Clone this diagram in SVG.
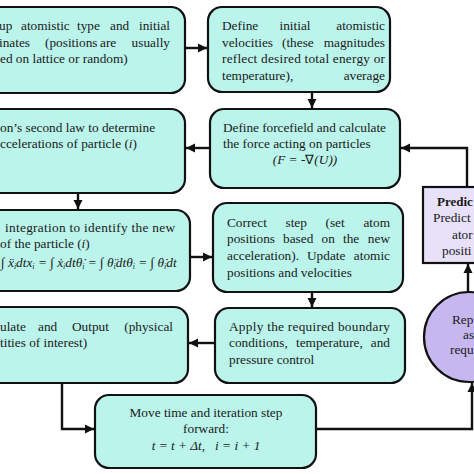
<svg xmlns="http://www.w3.org/2000/svg" width="474" height="474" viewBox="0 0 474 474">
<defs>
<style>
.box{fill:#bbf4eb;stroke:#111;stroke-width:2.2}
.t{font-family:"Liberation Serif","Times New Roman",serif;font-size:13.3px;fill:#1a1a1a}
.i{font-style:italic}
.n{font-style:normal}
.conn{stroke:#111;stroke-width:2.4;fill:none}
.s{font-size:8px}
</style>
<marker id="ah" markerWidth="10" markerHeight="10" refX="9" refY="5" orient="auto" markerUnits="userSpaceOnUse"><path d="M0,0.5 L9,5 L0,9.5 z" fill="#111"/></marker>
</defs>
<rect width="474" height="474" fill="#fff"/>

<g id="connectors">
<line class="conn" x1="185" y1="48" x2="207" y2="48" marker-end="url(#ah)"/>
<line class="conn" x1="312" y1="92" x2="312" y2="108" marker-end="url(#ah)"/>
<line class="conn" x1="210" y1="148" x2="186" y2="148" marker-end="url(#ah)"/>
<line class="conn" x1="78" y1="193" x2="78" y2="209" marker-end="url(#ah)"/>
<line class="conn" x1="190" y1="257" x2="212" y2="257" marker-end="url(#ah)"/>
<line class="conn" x1="312" y1="292" x2="312" y2="307" marker-end="url(#ah)"/>
<line class="conn" x1="215" y1="343" x2="189" y2="343" marker-end="url(#ah)"/>
<path class="conn" d="M62,383 V429 H94" marker-end="url(#ah)"/>
<path class="conn" d="M316,429 H472 V383" marker-end="url(#ah)"/>
<line class="conn" x1="468" y1="292" x2="468" y2="264" marker-end="url(#ah)"/>
<path class="conn" d="M467,187 V148 H401" marker-end="url(#ah)"/>
</g>

<g id="setup">
<rect class="box" x="-20" y="7" width="205" height="86" rx="14"/>
<text class="t" y="30"><tspan x="-1">up</tspan><tspan x="21">atomistic</tspan><tspan x="77">type</tspan><tspan x="110">and</tspan><tspan x="170" text-anchor="end">initial</tspan></text>
<text class="t" y="47"><tspan x="30" text-anchor="end">inates</tspan><tspan x="45">(positions</tspan><tspan x="100">are</tspan><tspan x="170" text-anchor="end">usually</tspan></text>
<text class="t" x="0" y="63">ed on lattice or random)</text>
</g>

<g id="velocities">
<rect class="box" x="208" y="7" width="182" height="85" rx="14"/>
<text class="t" y="30"><tspan x="222">Define</tspan><tspan x="295" text-anchor="middle">initial</tspan><tspan x="385" text-anchor="end">atomistic</tspan></text>
<text class="t" y="47"><tspan x="222">velocities</tspan><tspan x="282">(these</tspan><tspan x="385" text-anchor="end">magnitudes</tspan></text>
<text class="t" x="222" y="63" textLength="163" lengthAdjust="spacing">reflect desired total energy or</text>
<text class="t" y="80"><tspan x="222">temperature),</tspan><tspan x="385" text-anchor="end">average</tspan></text>
</g>

<g id="forcefield">
<rect class="box" x="210" y="109" width="190" height="79" rx="14"/>
<text class="t" x="223" y="132" textLength="163" lengthAdjust="spacing">Define forcefield and calculate</text>
<text class="t" x="223" y="148">the force acting on particles</text>
<text class="t i" x="305" y="164" text-anchor="middle">(F = -<tspan class="n">∇</tspan>(U))</text>
</g>

<g id="newton">
<rect class="box" x="-20" y="109" width="205" height="84" rx="14"/>
<text class="t" x="0" y="132">on’s second law to determine</text>
<text class="t" x="0" y="148">ccelerations of particle (<tspan class="i">i</tspan>)</text>
</g>

<g id="integration">
<rect class="box" x="-20" y="210" width="210" height="81" rx="14"/>
<text class="t" x="5" y="232" textLength="170" lengthAdjust="spacing">integration to identify the new</text>
<text class="t" x="0" y="248">of the particle (<tspan class="i">i</tspan>)</text>
<text class="t i" x="1" y="267">∫ ẍ<tspan class="s" dy="2">i</tspan><tspan dy="-2">dtx</tspan><tspan class="s" dy="2">i</tspan><tspan dy="-2"> = ∫ ẋ</tspan><tspan class="s" dy="2">i</tspan><tspan dy="-2">dtθ̇</tspan><tspan class="s" dy="2">i</tspan><tspan dy="-2"> = ∫ θ̈</tspan><tspan class="s" dy="2">i</tspan><tspan dy="-2">dtθ</tspan><tspan class="s" dy="2">i</tspan><tspan dy="-2"> = ∫ θ̇</tspan><tspan class="s" dy="2">i</tspan><tspan dy="-2">dt</tspan></text>
</g>

<g id="correct">
<rect class="box" x="213" y="203" width="190" height="89" rx="14"/>
<text class="t" y="227"><tspan x="227">Correct</tspan><tspan x="285.5">step</tspan><tspan x="325.5">(set</tspan><tspan x="390" text-anchor="end">atom</tspan></text>
<text class="t" y="243"><tspan x="227">positions</tspan><tspan x="283">based</tspan><tspan x="321.5">on</tspan><tspan x="343">the</tspan><tspan x="390" text-anchor="end">new</tspan></text>
<text class="t" y="260"><tspan x="227">acceleration).</tspan><tspan x="307">Update</tspan><tspan x="390" text-anchor="end">atomic</tspan></text>
<text class="t" x="227" y="277">positions and velocities</text>
</g>

<g id="boundary">
<rect class="box" x="215" y="308" width="190" height="75" rx="14"/>
<text class="t" x="229" y="331" textLength="161" lengthAdjust="spacing">Apply the required boundary</text>
<text class="t" y="347"><tspan x="229">conditions,</tspan><tspan x="296">temperature,</tspan><tspan x="390" text-anchor="end">and</tspan></text>
<text class="t" x="229" y="364">pressure control</text>
</g>

<g id="output">
<rect class="box" x="-20" y="307" width="208" height="76" rx="14"/>
<text class="t" y="331"><tspan x="0">ulate</tspan><tspan x="38">and</tspan><tspan x="72">Output</tspan><tspan x="173" text-anchor="end">(physical</tspan></text>
<text class="t" x="0" y="347">tities of interest)</text>
</g>

<g id="timestep">
<rect class="box" x="95" y="395" width="221" height="73" rx="14"/>
<text class="t" x="206" y="417" text-anchor="middle">Move time and iteration step</text>
<text class="t" x="206" y="433" text-anchor="middle">forward:</text>
<text class="t i" x="206" y="450" text-anchor="middle" xml:space="preserve">t = t + Δt,   i = i + 1</text>
</g>

<g id="predict">
<rect x="423" y="187" width="60" height="76" fill="#e7e1fa" stroke="#111" stroke-width="2.2"/>
<text class="t" x="437" y="206" font-weight="bold" font-size="13px" style="font-size:13px">Predic</text>
<text class="t" x="433" y="222">Predict</text>
<text class="t" x="452" y="239">ator</text>
<text class="t" x="442" y="255">positi</text>
</g>

<g id="repeat">
<circle cx="469" cy="337" r="45" fill="#c6b7ef" stroke="#111" stroke-width="2.2"/>
<text class="t" x="452" y="324">Rep</text>
<text class="t" x="463" y="339">as</text>
<text class="t" x="450" y="354">requ</text>
</g>
</svg>
